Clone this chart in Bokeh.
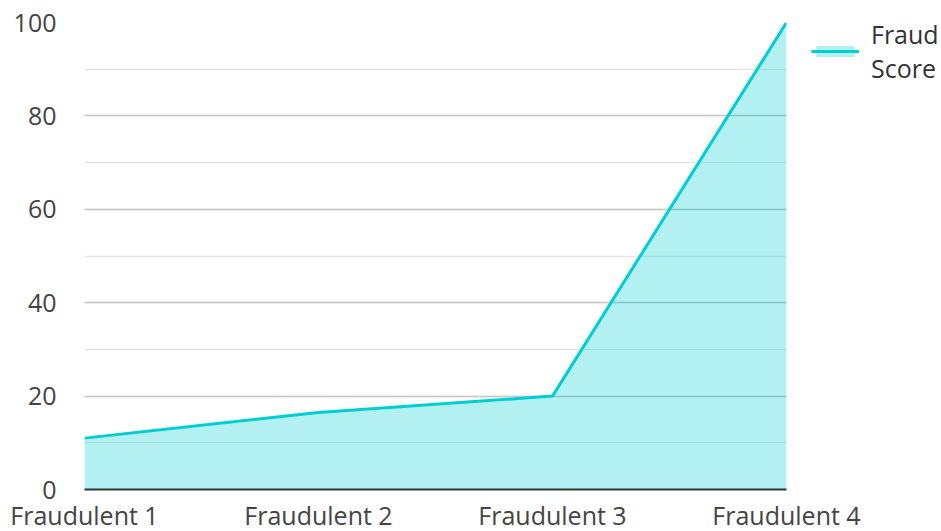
from bokeh.plotting import figure
from bokeh.models import Range1d, FixedTicker, SingleIntervalTicker, Legend, LegendItem, ColumnDataSource
from bokeh.embed import file_html
from bokeh.resources import INLINE

categories = ["Fraudulent 1", "Fraudulent 2", "Fraudulent 3", "Fraudulent 4"]
fraud_score = [11, 16.5, 20, 100]
series_name = "Fraud\nScore"

xs = list(range(len(categories)))
src = ColumnDataSource(dict(x=xs, y=fraud_score, base=[0] * len(xs)))

FONT = "Open Sans"
TEAL = "#00CED1"

p = figure(frame_width=702, frame_height=467, output_backend="svg", toolbar_location=None,
           x_range=Range1d(0, len(categories) - 1), y_range=Range1d(0, 100),
           min_border_left=84, min_border_right=150, min_border_top=22, min_border_bottom=30)
p.outline_line_color = None
p.background_fill_color = "white"

area = p.varea(x="x", y1="base", y2="y", source=src, fill_color=TEAL, fill_alpha=0.3)
line = p.line(x="x", y="y", source=src, line_color=TEAL, line_width=3)

p.xaxis.ticker = FixedTicker(ticks=xs)
p.xaxis.major_label_overrides = {i: c for i, c in enumerate(categories)}
p.yaxis.ticker = SingleIntervalTicker(interval=20, num_minor_ticks=2)

for ax in (p.xaxis[0], p.yaxis[0]):
    ax.major_tick_line_color = None
    ax.minor_tick_line_color = None
    ax.major_label_text_font = FONT
    ax.major_label_text_font_size = "25px"
    ax.major_label_text_color = "#444444"
p.yaxis.axis_line_color = None
p.yaxis.major_label_standoff = 22
p.xaxis.axis_line_color = "#333333"
p.xaxis.axis_line_width = 2
p.xaxis.major_label_standoff = 2

p.xgrid.grid_line_color = None
p.ygrid.grid_line_color = "#c8c8c8"
p.ygrid.grid_line_width = 1.5
p.ygrid.minor_grid_line_color = "#e6e6e6"
p.ygrid.minor_grid_line_width = 1.5

legend = Legend(items=[LegendItem(label=series_name, renderers=[area, line])],
                location=(25, 404), border_line_color=None, background_fill_alpha=0,
                glyph_width=48, glyph_height=14, label_standoff=12, padding=0, margin=0,
                label_text_font=FONT, label_text_font_size="25px", label_text_color="#333333")
p.add_layout(legend, "right")

open("out.html", "w").write(file_html(p, INLINE))
